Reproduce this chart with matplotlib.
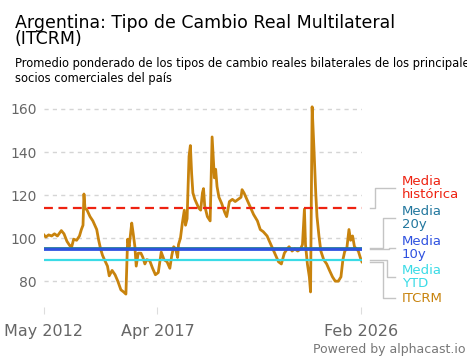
import matplotlib
matplotlib.use("Agg")
import matplotlib.pyplot as plt
import matplotlib.transforms as mtransforms
import pandas as pd

# ITCRM series
dates = [
    "2012-05-01", "2012-06-01", "2012-07-15", "2012-09-01", "2012-10-15", "2012-12-01",
    "2013-02-01", "2013-03-15", "2013-05-01", "2013-06-15", "2013-07-15", "2013-08-15",
    "2013-10-01", "2013-11-15", "2013-12-15", "2014-01-10", "2014-01-25", "2014-02-10",
    "2014-03-15", "2014-05-01", "2014-06-15", "2014-07-15", "2014-08-15", "2014-09-15",
    "2014-10-15", "2014-11-15", "2014-12-15", "2015-02-01", "2015-03-01", "2015-04-15",
    "2015-06-01", "2015-07-15", "2015-09-01", "2015-10-15", "2015-11-20", "2015-12-17",
    "2016-01-10", "2016-02-20", "2016-03-15", "2016-04-10", "2016-05-01", "2016-06-01",
    "2016-07-15", "2016-08-15", "2016-09-15", "2016-10-15", "2016-12-01", "2017-01-15",
    "2017-03-01", "2017-04-15", "2017-06-01", "2017-07-15", "2017-09-01", "2017-10-15",
    "2017-11-15", "2017-12-15", "2018-01-15", "2018-02-15", "2018-03-01", "2018-04-01",
    "2018-05-01", "2018-06-01", "2018-06-20", "2018-07-15", "2018-08-15", "2018-09-05",
    "2018-09-25", "2018-10-15", "2018-11-15", "2018-12-15", "2019-01-15", "2019-02-15",
    "2019-03-15", "2019-04-01", "2019-04-20", "2019-06-01", "2019-07-15", "2019-08-15",
    "2019-09-01", "2019-09-20", "2019-10-10", "2019-11-01", "2019-12-01", "2020-01-15",
    "2020-03-01", "2020-04-01", "2020-05-15", "2020-07-01", "2020-08-15", "2020-10-01",
    "2020-11-15", "2020-12-01", "2021-01-01", "2021-02-15", "2021-04-15", "2021-06-01",
    "2021-08-01", "2021-09-15", "2021-11-01", "2022-01-01", "2022-02-15", "2022-04-01",
    "2022-05-15", "2022-07-01", "2022-08-15", "2022-10-01", "2022-11-15", "2022-12-15",
    "2023-02-01", "2023-03-15", "2023-05-01", "2023-06-15", "2023-07-15", "2023-08-15",
    "2023-09-01", "2023-10-01", "2023-11-01", "2023-11-20", "2023-12-15", "2024-01-15",
    "2024-02-10", "2024-03-01", "2024-04-01", "2024-05-01", "2024-06-15", "2024-08-01",
    "2024-09-15", "2024-11-01", "2024-12-15", "2025-02-01", "2025-03-15", "2025-04-15",
    "2025-05-15", "2025-06-15", "2025-07-20", "2025-08-15", "2025-09-15", "2025-10-15",
    "2025-11-15", "2025-12-15", "2026-01-15", "2026-02-10",
]
itcrm = [
    101.5, 100.5, 101.5, 101, 102, 101,
    103.5, 102, 98.5, 96.5, 96, 99.5,
    99, 101, 104, 106, 120.5, 114,
    113, 110, 108, 106, 104, 99,
    95, 92, 90, 87, 82.5, 85,
    83, 80, 76, 75, 74, 99.5,
    96, 107, 102, 96, 87, 93,
    93, 91, 88, 90, 89.5, 86,
    83, 84, 93.5, 90, 89, 86,
    92, 96, 95, 91, 97, 100,
    107, 113, 106, 109, 138, 143,
    130, 121, 118, 116, 114, 113,
    121, 123, 115, 110, 108, 147,
    138, 128, 132, 124, 119, 116,
    112, 110, 117, 118, 117, 118,
    119, 122.5, 121, 118, 114, 111,
    108, 104, 103, 101, 98, 95,
    92, 89, 88, 93, 95, 96,
    94, 95, 94, 95, 97, 113.5,
    97, 88, 82, 75, 161, 140,
    121, 110, 101, 94, 90, 88,
    85, 82, 80, 80, 82, 90,
    94, 95, 104, 99, 101, 96,
    95, 94, 91, 89,
]

# reference levels
media_hist = 114.0
media_20y = 95.2
media_10y = 94.8
media_ytd = 89.8

tick_dates = ["2012-05-01", "2017-04-01", "2026-02-01"]
tick_labels = ["May 2012", "Apr 2017", "Feb 2026"]

s = pd.Series(itcrm, index=pd.to_datetime(dates))

fig = plt.figure(figsize=(4.67, 3.57), dpi=100)
ax = fig.add_axes([0.094, 0.14, 0.681, 0.591])

c_itcrm = "#c8830d"
c_hist = "#ee2211"
c_20y = "#22779e"
c_10y = "#2f52e0"
c_ytd = "#3adbe6"

ax.plot(s.index, s.values, color=c_itcrm, lw=2, zorder=3)
ax.axhline(media_hist, color=c_hist, lw=1.6, ls=(0, (4, 2.5)), zorder=4)
ax.axhline(media_20y, color=c_20y, lw=2, zorder=4)
ax.axhline(media_10y, color=c_10y, lw=2, zorder=4)
ax.axhline(media_ytd, color=c_ytd, lw=1.6, zorder=4)

ax.set_xlim(s.index[0], s.index[-1])
ax.set_ylim(68, 166)
ax.set_yticks([80, 100, 120, 140, 160])
ax.yaxis.grid(True, color="#d5d5d5", ls=(0, (3, 3)), lw=1)
ax.set_axisbelow(True)
for sp in ax.spines.values():
    sp.set_visible(False)
ax.tick_params(axis="y", length=0, labelsize=10, labelcolor="#666666", pad=5)
ax.set_xticks(pd.to_datetime(tick_dates))
ax.set_xticklabels(tick_labels)
ax.tick_params(axis="x", length=5, color="#dddddd", labelsize=11.5, labelcolor="#666666", pad=7)

# labels with connectors on the right
trans = mtransforms.blended_transform_factory(ax.transAxes, ax.transData)
labels = [
    ("Media\nhistórica", c_hist, media_hist, 123.3, 1.041),
    ("Media\n20y", c_20y, media_20y, 109.3, 1.066),
    ("Media\n10y", c_10y, media_10y, 95.3, 1.085),
    ("Media\nYTD", c_ytd, media_ytd, 81.9, 1.079),
    ("ITCRM", c_itcrm, itcrm[-1], 72.0, 1.066),
]
for text, col, y0, y1, xe in labels:
    ax.plot([1.025, xe, xe, 1.104], [y0, y0, y1, y1], transform=trans,
            color="#c4c4c4", lw=1, clip_on=False)
    ax.text(1.126, y1, text, transform=trans, color=col, fontsize=9.5,
            va="center", ha="left", linespacing=1.0)

fig.text(0.032, 0.962, "Argentina: Tipo de Cambio Real Multilateral\n(ITCRM)",
         fontsize=12.5, va="top", ha="left", linespacing=0.92)
fig.text(0.033, 0.84, "Promedio ponderado de los tipos de cambio reales bilaterales de los principales\nsocios comerciales del país",
         fontsize=8.3, va="top", ha="left")
fig.text(0.997, 0.003, "Powered by alphacast.io", fontsize=9, color="#777777",
         ha="right", va="bottom")

fig.savefig("out.png", dpi=100)
